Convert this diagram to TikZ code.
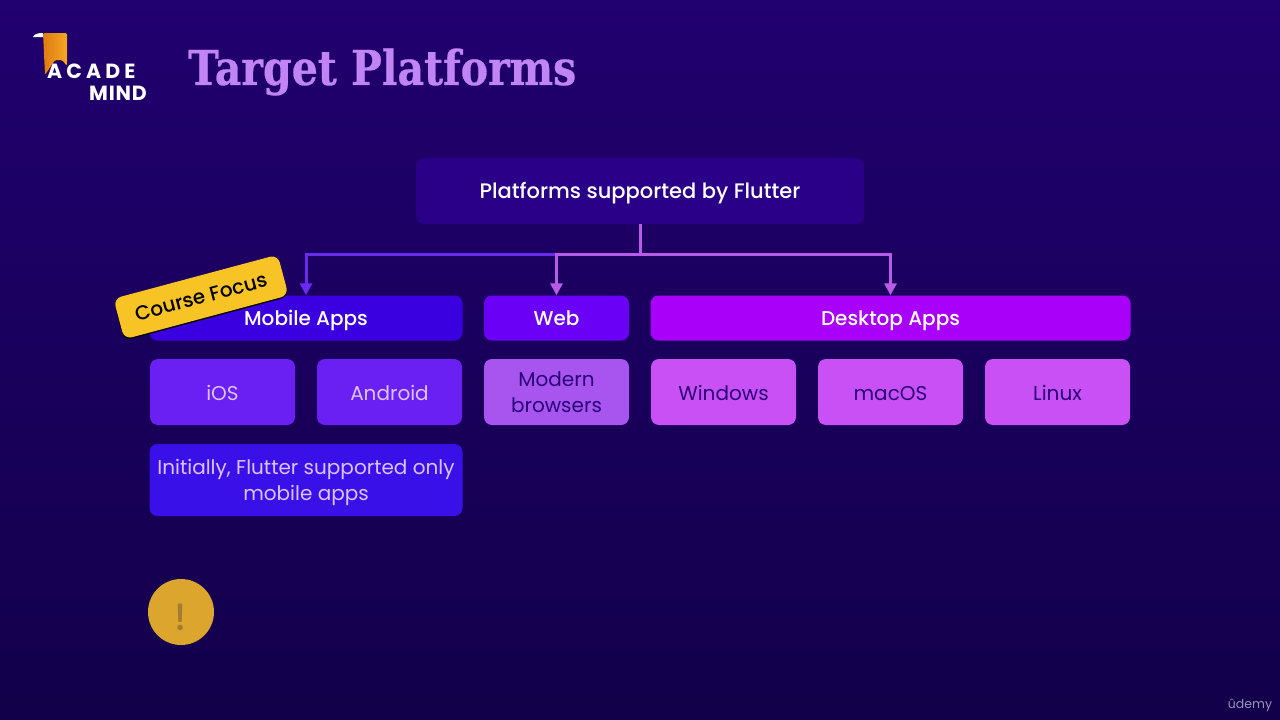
\documentclass[tikz,border=0pt]{standalone}
\usepackage{fontspec}
\setmainfont{Poppins}
\newfontfamily\mediumfont{Poppins Medium}
\newfontfamily\titlefont[FakeStretch=0.855,FakeBold=0.6]{DejaVu Serif}
\newfontfamily\acadefont[LetterSpace=20]{Poppins}
\newfontfamily\mindfont[LetterSpace=4]{Poppins}
\usetikzlibrary{positioning,arrows.meta,shadows}
\definecolor{bgtop}{HTML}{21006F}
\definecolor{bgbottom}{HTML}{12004A}
\definecolor{topbox}{HTML}{2A0088}
\definecolor{titlepurple}{HTML}{C084F5}
\definecolor{mobilefill}{HTML}{3A00E0}
\definecolor{webfill}{HTML}{6A00F5}
\definecolor{desktopfill}{HTML}{A800F8}
\definecolor{iosfill}{HTML}{6A20F2}
\definecolor{browserfill}{HTML}{A855F0}
\definecolor{windowsfill}{HTML}{C850F5}
\definecolor{notefill}{HTML}{3A10E8}
\definecolor{lighttext}{HTML}{DCC4FF}
\definecolor{darktext}{HTML}{2A0078}
\definecolor{linkblue}{HTML}{6A2BF0}
\definecolor{linkpink}{HTML}{B85CE8}
\definecolor{tagyellow}{HTML}{F8C325}
\definecolor{warnyellow}{HTML}{DBA52E}
\definecolor{warnmark}{HTML}{A37C32}
\definecolor{ribbonlight}{HTML}{F5A623}
\definecolor{ribbondark}{HTML}{E07B12}
\definecolor{udemygrey}{HTML}{9A90B8}
\tikzset{
	box/.style={rectangle,rounded corners=8pt,inner sep=0pt,align=center},
	headbox/.style={box,minimum width=145pt,minimum height=45pt,text=white,text height=17pt,text depth=3pt,font=\mediumfont\fontsize{20}{25}\selectfont},
	itembox/.style={box,minimum width=145pt,minimum height=66pt,text height=20pt,text depth=3pt,font=\fontsize{20}{26.5}\selectfont},
	twolines/.style={text height=,text depth=0pt},
	link/.style={line width=3pt,-{Triangle[length=12pt,width=12pt]}},
}
\begin{document}
\begin{tikzpicture}[x=1pt,y=-1pt,node distance=167pt,on grid,auto]
			\useasboundingbox (0,0) rectangle (1280,720);
			\shade[top color=bgtop,bottom color=bgbottom] (0,0) rectangle (1280,720);
			% logo
			\fill[white] (33,37) .. controls (34,34) and (38,33) .. (43,33) -- (44,37) -- cycle;
			\fill[left color=ribbondark,right color=ribbonlight,rounded corners=1.5pt] (43,33) -- (67,33) -- (67,66) -- (62,60) -- (55,60) -- (45,75) -- cycle;
			\node[text=white,font=\acadefont\fontsize{20.5}{20.5}\selectfont\bfseries,inner sep=0pt,anchor=west](acade) at (47,71) {ACADE};
			\node[text=white,font=\mindfont\fontsize{20.5}{20.5}\selectfont\bfseries,inner sep=0pt,anchor=west](mind) at (89,93) {MIND};
			\node[text=titlepurple,font=\titlefont\fontsize{48}{48}\selectfont\bfseries,inner sep=0pt,anchor=west](title) at (188,72) {Target Platforms};
			% tree
			\node[headbox,fill=topbox,minimum width=448pt,minimum height=66pt,font=\mediumfont\fontsize{21}{25}\selectfont](platforms) at (640,191) {Platforms supported by Flutter};
			\node[itembox,fill=iosfill,text=lighttext](ios) at (222.5,392) {iOS};
			\node[itembox,fill=iosfill,text=lighttext](android)[right=of ios] {Android};
			\node[itembox,twolines,fill=browserfill,text=darktext](browsers)[right=of android] {Modern\\browsers};
			\node[itembox,fill=windowsfill,text=darktext](windows)[right=of browsers] {Windows};
			\node[itembox,fill=windowsfill,text=darktext](macos)[right=of windows] {macOS};
			\node[itembox,fill=windowsfill,text=darktext](linux)[right=of macos] {Linux};
			\node[headbox,fill=mobilefill,minimum width=313pt](mobile) at (306,318) {Mobile Apps};
			\node[headbox,fill=webfill](web)[above=74pt of browsers] {Web};
			\node[headbox,fill=desktopfill,minimum width=480pt](desktop)[above=74pt of macos] {Desktop Apps};
			\node[itembox,twolines,fill=notefill,text=lighttext,minimum width=313pt,minimum height=72pt](note) at (306,480) {Initially, Flutter supported only\\mobile apps};
			\coordinate (split) at (640,254);
			\coordinate (webturn) at (web.north |- split);
			\draw[link,linkblue] (webturn) -| (mobile.north);
			\draw[link,linkpink] (split) -| (web.north);
			\draw[link,linkpink] (split) -| (desktop.north);
			\draw[line width=3pt,linkpink] (platforms.south) -- (split);
			% tag and warning
			\node[box,fill=tagyellow,rotate=15,minimum width=170pt,minimum height=42pt,text=black,font=\mediumfont\fontsize{20}{25}\selectfont,drop shadow={shadow xshift=0pt,shadow yshift=-1.5pt,opacity=1,fill=black}](focus) at (201,297) {Course Focus};
			\node[circle,fill=warnyellow,minimum size=66pt,inner sep=0pt,text=warnmark,text height=36pt,text depth=0pt,font=\mediumfont\fontsize{38}{38}\selectfont](warning) at (181,612) {!};
			\node[text=udemygrey,font=\fontsize{12.5}{14}\selectfont,inner sep=0pt](udemy) at (1250,705) {ûdemy};
\end{tikzpicture}
\end{document}
